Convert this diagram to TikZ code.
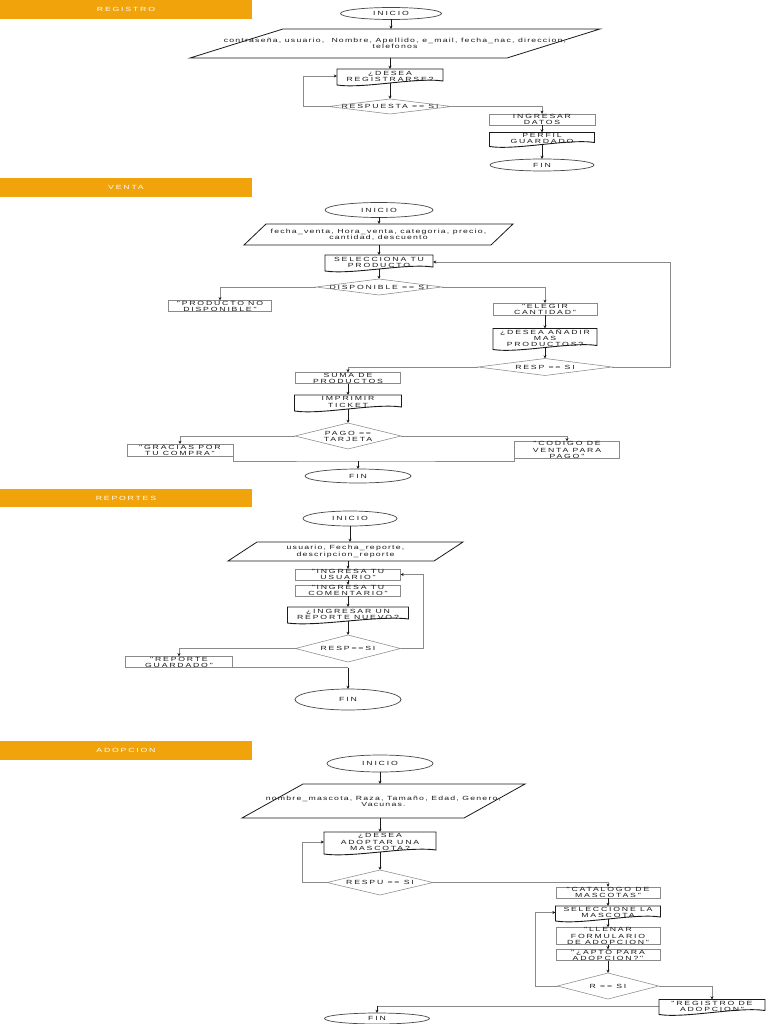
\documentclass[tikz,border=0pt]{standalone}
\usepackage{fontspec}
\usepackage{tikz}
\usetikzlibrary{arrows.meta,calc,shapes.geometric}
\definecolor{ink}{HTML}{1A1A1A}
\definecolor{rule}{HTML}{8A8A8A}
\definecolor{amber}{HTML}{F0A30A}
\newfontfamily\flowfont[FakeStretch=1.45,LetterSpace=30]{Liberation Sans}
\newfontfamily\datafont[FakeStretch=1.45,LetterSpace=20]{Liberation Sans}
\tikzset{
  every node/.style={outer sep=0pt, inner sep=0.5pt, align=center,
    font=\flowfont\fontsize{6}{6.1}\selectfont, text=ink},
  sz/.style 2 args={minimum width=#1pt, minimum height=#2pt},
  bar/.style={fill=amber, text=white, inner sep=0pt},
  term/.style={ellipse, draw=ink!80, line width=0.7pt, inner sep=0pt},
  procbox/.style={draw=rule, line width=0.6pt},
  docbox/.style={},
  decbox/.style={},
  iobox/.style={font=\datafont\fontsize{6}{6.2}\selectfont},
  docline/.style={draw=ink, line width=0.9pt},
  decline/.style={draw=rule, line width=0.55pt},
  ioline/.style={draw=ink, line width=0.8pt},
  arrow/.style={-{Stealth[length=3.2pt,width=3pt]}, draw=ink, line width=0.8pt},
  link/.style={draw=rule, line width=0.55pt},
  linkarrow/.style={link, -{Stealth[length=3.2pt,width=3pt,color=ink]}},
}
\begin{document}
\begin{tikzpicture}[x=1pt,y=-1pt]
  \path[fill=white,use as bounding box] (0,0) rectangle (768,1024);

  \node[bar,sz={252}{19}] (barA) at (126,9.5) {REGISTRO};
  \node[term,sz={101}{12}] (iniA) at (391,13.5) {INICIO};
  \node[iobox,sz={410}{29}] (datA) at (395,43.5) {contraseña, usuario,\ \ Nombre, Apellido, e\_mail, fecha\_nac, direccion,\\telefonos};
  \node[docbox,sz={106}{14}] (pregA) at (390,76) {¿DESEA\\REGISTRARSE?};
  \node[decbox,sz={123}{15}] (decA) at (390,106.5) {RESPUESTA == SI};
  \node[procbox,sz={106}{11}] (ingA) at (542,119.5) {INGRESAR\\DATOS};
  \node[docbox,sz={105}{12}] (perA) at (542,138.5) {PERFIL\\GUARDADO};
  \node[term,sz={104}{12}] (finA) at (542,165) {FIN};

  \draw[arrow] (iniA.south) -- (iniA.south |- datA.north);
  \draw[arrow] (pregA.north |- datA.south) -- (pregA.north);
  \draw[arrow] (pregA) -- (decA);
  \draw[linkarrow] (decA.west) -- ++(-25,0) |- (pregA.west);
  \draw[linkarrow] (decA.east) -| (ingA.north);
  \draw[arrow] (ingA) -- (perA);
  \draw[arrow] (perA) -- (finA);

  \node[bar,sz={252}{19}] (barB) at (126,187.5) {VENTA};
  \node[term,sz={108}{15}] (iniB) at (379,210) {INICIO};
  \node[iobox,sz={269}{21}] (datB) at (378.5,234.5) {fecha\_venta, Hora\_venta, categoria, precio,\\cantidad, descuento};
  \node[docbox,sz={108}{14}] (selB) at (379,262) {SELECCIONA TU\\PRODUCTO};
  \node[decbox,sz={126}{16}] (decB) at (379,287) {DISPONIBLE == SI};
  \node[procbox,sz={103}{11}] (noB) at (220,306) {"PRODUCTO NO\\DISPONIBLE"};
  \node[procbox,sz={104}{12}] (eleB) at (545,309) {"ELEGIR\\CANTIDAD"};
  \node[docbox,sz={104}{19}] (masB) at (545,338) {¿DESEA AÑADIR\\MAS\\PRODUCTOS?};
  \node[decbox,sz={134}{17}] (resB) at (545,367) {RESP == SI};
  \node[procbox,sz={105}{11}] (sumB) at (348,378) {SUMA DE\\PRODUCTOS};
  \node[docbox,sz={107}{14}] (impB) at (348,402) {IMPRIMIR\\TICKET};
  \node[decbox,sz={106}{26}] (pagB) at (348,436) {PAGO ==\\TARJETA};
  \node[procbox,sz={106}{12}] (graB) at (180,450) {"GRACIAS POR\\TU COMPRA"};
  \node[procbox,sz={105}{13}] (codB) at (567,450) {"CODIGO DE\\VENTA PARA\\PAGO"};
  \node[term,sz={106}{14}] (finB) at (358,476) {FIN};
  \coordinate (joinB) at (358,461);

  \draw[arrow] (iniB.south) -- (iniB.south |- datB.north);
  \draw[arrow] (selB.north |- datB.south) -- (selB.north);
  \draw[arrow] (selB) -- (decB);
  \draw[linkarrow] (decB.west) -| (noB.north);
  \draw[linkarrow] (decB.east) -| (eleB.north);
  \draw[arrow] (eleB) -- (masB);
  \draw[arrow] (masB) -- (resB);
  \draw[linkarrow] (resB.east) -- ++(58,0) |- (selB.east);
  \draw[linkarrow] (resB.west) -| (sumB.north);
  \draw[arrow] (sumB) -- (impB);
  \draw[arrow] (impB) -- (pagB);
  \draw[linkarrow] (pagB.west) -| (graB.north);
  \draw[linkarrow] (pagB.east) -| (codB.north);
  \draw[link] (graB.south east) |- (joinB) -| (codB.south west);
  \draw[arrow] (joinB) -- (finB.north);

  \node[bar,sz={252}{18}] (barC) at (126,498) {REPORTES};
  \node[term,sz={94}{15}] (iniC) at (350,518.5) {INICIO};
  \node[iobox,sz={235}{19}] (datC) at (345.5,551.5) {usuario, Fecha\_reporte,\\descripcion\_reporte};
  \node[procbox,sz={105}{9}] (usuC) at (348,574.5) {"INGRESA TU\\USUARIO"};
  \node[procbox,sz={105}{11}] (comC) at (348,590.5) {"INGRESA TU\\COMENTARIO"};
  \node[docbox,sz={121}{14}] (nueC) at (348,614) {¿INGRESAR UN\\REPORTE NUEVO?};
  \node[decbox,sz={105}{27}] (resC) at (348,648.5) {RESP==SI};
  \node[procbox,sz={107}{10}] (guaC) at (179,662) {"REPORTE\\GUARDADO"};
  \node[term,sz={106}{21}] (finC) at (348,699.5) {FIN};
  \coordinate (joinC) at (guaC.south east -| finC.north);

  \draw[arrow] (iniC.south) -- (iniC.south |- datC.north);
  \draw[arrow] (usuC.north |- datC.south) -- (usuC.north);
  \draw[arrow] (usuC) -- (comC);
  \draw[arrow] (comC) -- (nueC);
  \draw[arrow] (nueC) -- (resC);
  \draw[linkarrow] (resC.east) -- ++(22.5,0) |- (usuC.east);
  \draw[linkarrow] (resC.west) -| (guaC.north);
  \draw[link] (guaC.south east) -- (joinC);
  \draw[arrow] (joinC) -- (finC.north);

  \node[bar,sz={252}{19}] (barD) at (126,750.5) {ADOPCION};
  \node[term,sz={106}{17}] (iniD) at (380,763.5) {INICIO};
  \node[iobox,sz={283}{34}] (datD) at (383.5,801) {nombre\_mascota, Raza, Tamaño, Edad, Genero,\\Vacunas.};
  \node[docbox,sz={112}{20}] (pregD) at (380,842) {¿DESEA\\ADOPTAR UNA\\MASCOTA?};
  \node[decbox,sz={106}{25}] (decD) at (380,882.5) {RESPU == SI};
  \node[procbox,sz={104}{11}] (catD) at (608,892.5) {"CATALOGO DE\\MASCOTAS"};
  \node[docbox,sz={105}{13}] (selD) at (608,912.5) {SELECCIONE LA\\MASCOTA};
  \node[procbox,sz={104}{12}] (llnD) at (608,936) {"LLENAR\\FORMULARIO\\DE ADOPCION"};
  \node[procbox,sz={104}{10}] (aptD) at (608,955) {"¿APTO PARA\\ADOPCION?"};
  \node[decbox,sz={101}{26}] (rD) at (608,986) {R == SI};
  \node[docbox,sz={106}{13}] (regD) at (712,1006) {"REGISTRO DE\\ADOPCION"};
  \node[term,sz={105}{11}] (finD) at (377,1018.5) {FIN};
  \coordinate (joinD) at (regD.west -| finD.north);

  \draw[arrow] (iniD.south) -- (iniD.south |- datD.north);
  \draw[arrow] (pregD.north |- datD.south) -- (pregD.north);
  \draw[arrow] (pregD) -- (decD);
  \draw[linkarrow] (decD.west) -- ++(-25,0) |- (pregD.west);
  \draw[linkarrow] (decD.east) -| (catD.north);
  \draw[arrow] (catD) -- (selD);
  \draw[arrow] (selD) -- (llnD);
  \draw[arrow] (llnD) -- (aptD);
  \draw[arrow] (aptD) -- (rD);
  \draw[linkarrow] (rD.west) -- ++(-22,0) |- (selD.west);
  \draw[linkarrow] (rD.east) -| (regD.north);
  \draw[link] (regD.west) -- (joinD);
  \draw[arrow] (joinD) -- (finD.north);

  \foreach \n in {pregA,perA,selB,masB,impB,nueC,pregD,selD,regD}
    \draw[docline] (\n.north west) -- (\n.north east) -- ($(\n.south east)+(0,-2)$)
      .. controls ($(\n.south)!0.5!(\n.south east)+(0,-6)$) and ($(\n.south)!0.5!(\n.south west)+(0,6)$)
      .. ($(\n.south west)+(0,2)$) -- cycle;
  \foreach \n in {decA,decB,resB,pagB,resC,decD,rD}
    \draw[decline] (\n.north) -- (\n.east) -- (\n.south) -- (\n.west) -- cycle;
  \foreach \n/\s in {datA/93,datB/22,datC/29,datD/61}
    \draw[ioline] ($(\n.north west)+(\s,0)$) -- (\n.north east) -- ($(\n.south east)+(-\s,0)$) -- (\n.south west) -- cycle;
\end{tikzpicture}
\end{document}
